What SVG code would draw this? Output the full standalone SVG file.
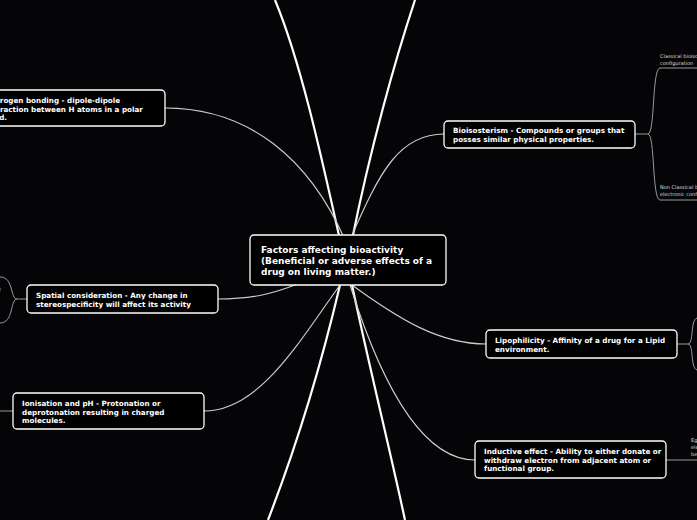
<svg xmlns="http://www.w3.org/2000/svg" width="697" height="520" viewBox="0 0 697 520">
<style>
.n{fill:#000;stroke:#fff;stroke-width:1.3}
.t{fill:#fff;font-family:"DejaVu Sans",sans-serif;font-weight:bold;font-size:7.2px}
.s{fill:#ddd;font-family:"DejaVu Sans",sans-serif;font-size:5px}
.c{fill:none;stroke:#fff;stroke-width:2.2}
.b{fill:none;stroke:#ccc;stroke-width:1.2}
.k{fill:none;stroke:#999;stroke-width:1}
</style>
<rect width="697" height="520" fill="#050507"/>
<g id="connectors">
<path class="c" d="M340,240 C320,150 300,60 275,0"/>
<path class="c" d="M352,240 C370,150 395,60 415,0"/>
<path class="c" d="M340,285 C320,370 295,450 268,520"/>
<path class="c" d="M352,285 C370,370 390,450 405,520"/>
<path class="b" d="M345,240 C310,160 250,108 165,108"/>
<path class="b" d="M350,240 C380,170 400,134 444,134"/>
<path class="b" d="M300,283 C270,295 250,299 218,299"/>
<path class="b" d="M352,285 C400,320 440,344 486,344"/>
<path class="b" d="M340,285 C300,340 260,411 204,411"/>
<path class="b" d="M350,285 C380,380 420,460 475,460"/>
<path class="k" d="M635,134 H648 C655,134 652,68 660,68 H697 M648,134 C655,134 652,200 660,200 H697"/>
<path class="k" d="M677,344 H688 C694,344 690,320 697,318 M688,344 C694,344 690,368 697,370"/>
<path class="k" d="M27,299 H17 C10,299 14,277 0,277 M17,299 C10,299 14,323 0,323"/>
<path class="k" d="M13,411 H0"/>
<path class="k" d="M666,460 H697"/>
</g>
<g id="center"><rect class="n" x="250" y="235" width="196" height="50" rx="4"/>
<text class="t"><tspan x="261" y="253" style="font-size:9px">Factors affecting bioactivity</tspan><tspan x="261" y="264" style="font-size:9px">(Beneficial or adverse effects of a</tspan><tspan x="261" y="275" style="font-size:9px">drug on living matter.)</tspan></text></g>
<g id="hydrogen"><rect class="n" x="-10" y="90" width="175" height="36" rx="4"/>
<text class="t"><tspan x="-16" y="103">Hydrogen bonding - dipole-dipole</tspan><tspan x="-16" y="111.5">interaction between H atoms in a polar</tspan><tspan x="-16" y="120">bond.</tspan></text></g>
<g id="bioisosterism"><rect class="n" x="444" y="121" width="191" height="27" rx="4"/>
<text class="t"><tspan x="453" y="133">Bioisosterism - Compounds or groups that</tspan><tspan x="453" y="141.5">posses similar physical properties.</tspan></text></g>
<g id="spatial"><rect class="n" x="27" y="285" width="191" height="28" rx="4"/>
<text class="t"><tspan x="36" y="298">Spatial consideration - Any change in</tspan><tspan x="36" y="306.5">stereospecificity will affect its activity</tspan></text></g>
<g id="lipophilicity"><rect class="n" x="486" y="330" width="191" height="28" rx="4"/>
<text class="t"><tspan x="495" y="343">Lipophilicity  - Affinity of a drug for a Lipid</tspan><tspan x="495" y="351.5">environment.</tspan></text></g>
<g id="ionisation"><rect class="n" x="13" y="393" width="191" height="36" rx="4"/>
<text class="t"><tspan x="22" y="406">Ionisation and pH - Protonation or</tspan><tspan x="22" y="414.5">deprotonation resulting in charged</tspan><tspan x="22" y="423">molecules.</tspan></text></g>
<g id="inductive"><rect class="n" x="475" y="441" width="191" height="37" rx="4"/>
<text class="t"><tspan x="484" y="454">Inductive effect - Ability to either donate or</tspan><tspan x="484" y="462.5">withdraw electron from adjacent atom or</tspan><tspan x="484" y="471">functional group.</tspan></text></g>
<g id="labels">
<text class="s"><tspan x="660" y="58">Classical bioisosteres</tspan><tspan x="660" y="65">configuration</tspan></text>
<text class="s"><tspan x="660" y="189">Non Classical bioisosteres</tspan><tspan x="660" y="196">electronic configuration</tspan></text>
<text class="s"><tspan x="-4" y="292">of</tspan></text>
<text class="s"><tspan x="691" y="442">Eg</tspan><tspan x="691" y="449">electron</tspan><tspan x="691" y="456">be</tspan></text>
</g>
</svg>
